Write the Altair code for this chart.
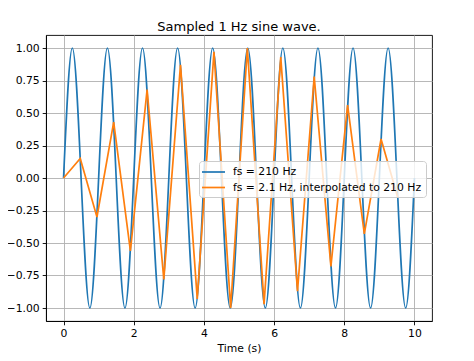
import altair as alt
import pandas as pd

# 1 Hz sine, read at quarter-period points (peaks, troughs, zero crossings)
t_blue = [i * 0.25 for i in range(41)]
y_blue = [0, 1, 0, -1] * 10 + [0]

# 2.1 Hz samples
t_orange = [0.0, 0.476, 0.952, 1.429, 1.905, 2.381, 2.857, 3.333, 3.810, 4.286,
            4.762, 5.238, 5.714, 6.190, 6.667, 7.143, 7.619, 8.095, 8.571, 9.048, 9.524]
y_orange = [0.0, 0.15, -0.30, 0.43, -0.56, 0.68, -0.78, 0.87, -0.93, 0.97,
            -1.0, 1.0, -0.97, 0.93, -0.87, 0.78, -0.68, 0.56, -0.43, 0.30, -0.15]

label_blue = "fs = 210 Hz"
label_orange = "fs = 2.1 Hz, interpolated to 210 Hz"

x_ticks = [0, 2, 4, 6, 8, 10]
y_ticks = [-1.0, -0.75, -0.5, -0.25, 0.0, 0.25, 0.5, 0.75, 1.0]

df_blue = pd.DataFrame({"t": t_blue, "y": y_blue, "series": label_blue})
df_orange = pd.DataFrame({"t": t_orange, "y": y_orange, "series": label_orange})

FONT = "DejaVu Sans"

xenc = alt.X("t:Q", title="Time (s)",
             scale=alt.Scale(domain=[-0.5, 10.5], nice=False, zero=False),
             axis=alt.Axis(values=x_ticks, format="d"))
yenc = alt.Y("y:Q", title=None,
             scale=alt.Scale(domain=[-1.1, 1.1], nice=False, zero=False),
             axis=alt.Axis(values=y_ticks, format=".2f"))
color_scale = alt.Scale(domain=[label_blue, label_orange], range=["#1f77b4", "#ff7f0e"])
legend = alt.Legend(
    title=None, orient="none", legendX=153, legendY=126,
    symbolType="M-2,0L2,0", symbolStrokeWidth=1.7, symbolSize=132.25,
    symbolOffset=3.5, symbolFillColor="transparent",
    labelFont=FONT, labelFontSize=10.8, labelColor="black", labelOffset=12.5,
    labelLimit=0,
    padding=4, rowPadding=3.5, fillColor="rgba(255,255,255,0.8)",
    strokeColor="#cccccc", cornerRadius=3,
)

blue = alt.Chart(df_blue).mark_line(strokeWidth=1.7, interpolate="natural").encode(
    x=xenc, y=yenc,
    color=alt.Color("series:N", scale=color_scale, legend=legend),
)
orange = alt.Chart(df_orange).mark_line(strokeWidth=1.7).encode(
    x=xenc, y=yenc,
    color=alt.Color("series:N", scale=color_scale, legend=legend),
)

chart = alt.layer(blue, orange).properties(
    width=386, height=286,
    title=alt.TitleParams("Sampled 1 Hz sine wave.", font=FONT, fontSize=13,
                          fontWeight="normal", color="black", anchor="middle", offset=1),
    autosize=alt.AutoSizeParams(type="none"),
    padding={"left": 38, "top": 27, "right": 34, "bottom": 38},
).configure_view(
    stroke="black", strokeWidth=0.9
).configure_axis(
    labelFont=FONT, labelFontSize=10.8, labelColor="black",
    titleFont=FONT, titleFontSize=10.8, titleFontWeight="normal", titleColor="black",
    domainColor="black", domainWidth=0.9, tickColor="black", tickWidth=0.9,
    tickSize=3.8, labelPadding=3, grid=True, gridColor="#b0b0b0", gridWidth=0.9,
    titlePadding=4,
)

chart.save("out.html", embed_options={"renderer": "svg", "actions": False})
